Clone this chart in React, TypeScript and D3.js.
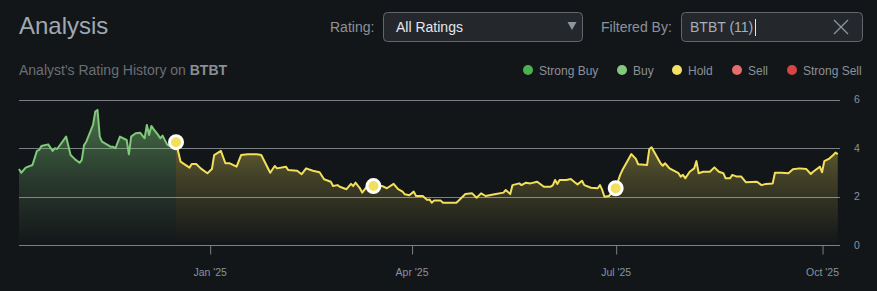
import React, { useEffect, useRef } from "react";
import * as d3 from "d3";

const W = 877;
const H = 291;

// Price history (date, close)
const dates = [
  "2024-10-08","2024-10-09","2024-10-11","2024-10-14","2024-10-16","2024-10-17","2024-10-18","2024-10-21","2024-10-23","2024-10-24",
  "2024-10-25","2024-10-29","2024-10-31","2024-11-02","2024-11-04","2024-11-05","2024-11-06","2024-11-07","2024-11-10","2024-11-11",
  "2024-11-12","2024-11-13","2024-11-14","2024-11-18","2024-11-19","2024-11-20","2024-11-22","2024-11-25","2024-11-26","2024-11-27",
  "2024-11-29","2024-12-01","2024-12-03","2024-12-04","2024-12-05","2024-12-06","2024-12-07","2024-12-09","2024-12-10","2024-12-11",
  "2024-12-13","2024-12-14","2024-12-17","2024-12-19","2024-12-23","2024-12-24","2024-12-26","2024-12-28","2024-12-31","2025-01-02",
  "2025-01-03","2025-01-06","2025-01-08","2025-01-10","2025-01-13","2025-01-15","2025-01-18","2025-01-22","2025-01-24","2025-01-28",
  "2025-01-30","2025-01-31","2025-02-04","2025-02-05","2025-02-09","2025-02-11","2025-02-13","2025-02-16","2025-02-19","2025-02-21",
  "2025-02-24","2025-02-25","2025-02-27","2025-02-28","2025-03-03","2025-03-05","2025-03-06","2025-03-07","2025-03-09","2025-03-10",
  "2025-03-12","2025-03-15","2025-03-19","2025-03-21","2025-03-24","2025-03-26","2025-03-28","2025-03-29","2025-03-31","2025-04-02",
  "2025-04-03","2025-04-06","2025-04-08","2025-04-09","2025-04-10","2025-04-11","2025-04-14","2025-04-15","2025-04-21","2025-04-25",
  "2025-04-28","2025-04-30","2025-05-02","2025-05-04","2025-05-08","2025-05-12","2025-05-13","2025-05-15","2025-05-16","2025-05-19",
  "2025-05-20","2025-05-22","2025-05-24","2025-05-27","2025-05-30","2025-06-02","2025-06-03","2025-06-04","2025-06-05","2025-06-06",
  "2025-06-09","2025-06-11","2025-06-13","2025-06-14","2025-06-16","2025-06-17","2025-06-20","2025-06-23","2025-06-24","2025-06-25",
  "2025-06-26","2025-06-28","2025-07-01","2025-07-03","2025-07-04","2025-07-08","2025-07-10","2025-07-11","2025-07-15","2025-07-16",
  "2025-07-17","2025-07-21","2025-07-22","2025-07-23","2025-07-25","2025-07-29","2025-07-30","2025-07-31","2025-08-01","2025-08-03",
  "2025-08-05","2025-08-06","2025-08-07","2025-08-09","2025-08-12","2025-08-14","2025-08-16","2025-08-18","2025-08-19","2025-08-21",
  "2025-08-22","2025-08-24","2025-08-26","2025-08-27","2025-08-28","2025-09-02","2025-09-04","2025-09-06","2025-09-09","2025-09-10",
  "2025-09-13","2025-09-16","2025-09-18","2025-09-21","2025-09-24","2025-09-26","2025-09-27","2025-09-30","2025-10-01","2025-10-02",
  "2025-10-04","2025-10-06","2025-10-07","2025-10-08",
];
const prices = [
  3.13,2.98,3.19,3.30,3.88,3.92,4.08,4.15,3.88,3.99,
  3.96,4.47,3.71,3.53,3.39,3.51,4.12,4.26,4.95,5.50,
  5.57,4.47,4.26,4.05,4.05,3.99,4.47,4.33,3.74,4.47,
  4.61,4.63,4.40,4.95,4.54,4.91,4.78,4.54,4.40,4.51,
  4.15,4.09,4.24,3.44,3.19,3.34,3.34,3.16,2.96,3.13,
  3.71,3.88,3.37,3.37,3.23,3.71,3.74,3.74,3.71,2.98,
  3.26,3.16,3.23,3.09,3.06,2.92,3.16,3.06,3.00,2.71,
  2.61,2.43,2.47,2.40,2.30,2.52,2.43,2.57,2.34,2.16,
  2.40,2.43,2.43,2.34,2.52,2.30,2.20,2.09,2.05,2.20,
  2.02,2.02,1.86,1.88,1.74,1.83,1.83,1.74,1.74,2.10,
  2.13,1.95,2.13,2.02,2.09,2.16,2.27,2.10,2.47,2.54,
  2.47,2.57,2.54,2.61,2.40,2.40,2.47,2.68,2.52,2.68,
  2.68,2.72,2.57,2.50,2.65,2.47,2.36,2.34,2.47,2.27,
  1.99,2.02,2.34,2.89,3.09,3.75,3.55,3.33,3.30,3.96,
  4.03,3.37,3.27,3.37,3.16,2.96,2.82,2.89,2.75,3.02,
  3.16,3.46,2.96,3.02,3.02,3.20,3.02,2.96,2.75,2.75,
  2.89,2.82,2.82,2.71,2.59,2.61,2.47,2.52,2.54,2.98,
  2.98,2.96,3.12,3.16,3.13,2.93,3.02,3.23,3.00,3.46,
  3.55,3.71,3.81,3.75,
];

// Rating history
const initialRating = "Buy";
const ratingChangeDates = ["2024-12-17", "2025-03-15", "2025-07-01"];
const ratingChangeValues = ["Hold", "Hold", "Hold"];

// Legend / axes
const legendLabels = ["Strong Buy", "Buy", "Hold", "Sell", "Strong Sell"];
const legendColors = ["#4caf50", "#84c77f", "#f2e163", "#e56d6d", "#d64545"];
const xTickDates = ["2025-01-01", "2025-04-01", "2025-07-01", "2025-10-01"];
const yTickValues = [0, 2, 4, 6];
const xDomain = ["2024-10-08", "2025-10-09"];

const lineColors: Record<string, string> = {
  "Strong Buy": "#4caf50",
  Buy: "#7fc97a",
  Hold: "#f2df5c",
  Sell: "#e56d6d",
  "Strong Sell": "#d64545",
};

const FONT = "'Liberation Sans', Arial, Helvetica, sans-serif";
const BG = "#131619";

export default function App() {
  const ref = useRef<SVGSVGElement>(null);

  useEffect(() => {
    const parse = d3.timeParse("%Y-%m-%d");
    const svg = d3.select(ref.current);
    svg.selectAll("*").remove();

    svg.append("rect").attr("width", W).attr("height", H).attr("fill", BG);

    // ---------- Header ----------
    svg.append("text").attr("x", 19).attr("y", 34).attr("font-size", 24)
      .attr("fill", "#9fa9b2").attr("font-family", FONT).text("Analysis");

    svg.append("text").attr("x", 330).attr("y", 32).attr("font-size", 14)
      .attr("fill", "#8b939b").attr("font-family", FONT).text("Rating:");

    svg.append("rect").attr("x", 383.5).attr("y", 12.5).attr("width", 199).attr("height", 29)
      .attr("rx", 4).attr("fill", "#24272b").attr("stroke", "#62676d");
    svg.append("text").attr("x", 396).attr("y", 32).attr("font-size", 14)
      .attr("fill", "#e3e7eb").attr("font-family", FONT).text("All Ratings");
    svg.append("path").attr("d", "M567.5,22 L576.5,22 L572,30 Z").attr("fill", "#8f959c");

    svg.append("text").attr("x", 601).attr("y", 32).attr("font-size", 14)
      .attr("fill", "#8b939b").attr("font-family", FONT).text("Filtered By:");
    svg.append("rect").attr("x", 681.5).attr("y", 12.5).attr("width", 181).attr("height", 29)
      .attr("rx", 4).attr("fill", "#24272b").attr("stroke", "#62676d");
    svg.append("text").attr("x", 690).attr("y", 32).attr("font-size", 14)
      .attr("fill", "#a7afb7").attr("font-family", FONT).text("BTBT (11)");
    svg.append("line").attr("x1", 755.5).attr("x2", 755.5).attr("y1", 19).attr("y2", 36)
      .attr("stroke", "#e0e4e8").attr("stroke-width", 1);
    const xc = 841, yc = 27, s = 7;
    svg.append("path")
      .attr("d", `M${xc - s},${yc - s} L${xc + s},${yc + s} M${xc + s},${yc - s} L${xc - s},${yc + s}`)
      .attr("stroke", "#8f959c").attr("stroke-width", 1.3);

    const sub = svg.append("text").attr("x", 19).attr("y", 75).attr("font-size", 14)
      .attr("fill", "#696f75").attr("font-family", FONT);
    sub.append("tspan").text("Analyst's Rating History on ");
    sub.append("tspan").attr("font-weight", "bold").attr("fill", "#8a9096").text("BTBT");

    // Legend
    const legendDotX = [528, 622, 677, 737, 792];
    legendLabels.forEach((lab, i) => {
      svg.append("circle").attr("cx", legendDotX[i]).attr("cy", 70).attr("r", 5)
        .attr("fill", legendColors[i]);
      svg.append("text").attr("x", legendDotX[i] + 11).attr("y", 74.5).attr("font-size", 12)
        .attr("fill", "#8a9198").attr("font-family", FONT).text(lab);
    });

    // ---------- Chart ----------
    const x = d3.scaleTime().domain(xDomain.map((d) => parse(d)!)).range([19, 840]);
    const y = d3.scaleLinear().domain([0, 6]).range([245, 99.5]);

    const data = dates.map((d, i) => ({ date: parse(d)!, value: prices[i] }));
    const changes = ratingChangeDates.map((d, i) => ({ date: parse(d)!, rating: ratingChangeValues[i] }));

    // Build segments by rating in effect
    const ratingAt = (dt: Date) => {
      let r = initialRating;
      changes.forEach((c) => { if (+c.date <= +dt) r = c.rating; });
      return r;
    };
    type Pt = { date: Date; value: number };
    const segments: { rating: string; pts: Pt[] }[] = [];
    data.forEach((p) => {
      const r = ratingAt(p.date);
      const last = segments[segments.length - 1];
      if (!last || last.rating !== r) {
        const seg = { rating: r, pts: [] as Pt[] };
        if (last) seg.pts.push(last.pts[last.pts.length - 1]);
        // if a change lands on this date, the previous segment ends here too
        if (last && changes.some((c) => +c.date === +p.date)) {
          last.pts.push(p);
          seg.pts = [p];
        }
        segments.push(seg);
        seg.pts.push(p);
        if (seg.pts.length > 1 && +seg.pts[0].date === +seg.pts[1].date) seg.pts.shift();
      } else {
        last.pts.push(p);
      }
    });

    // Gridlines
    const grid = svg.append("g");
    yTickValues.forEach((v) => {
      const yy = Math.round(y(v)) + 0.5;
      grid.append("line").attr("x1", 19).attr("x2", 840).attr("y1", yy).attr("y2", yy)
        .attr("stroke", "#7b8086").attr("stroke-width", 1);
    });

    const defs = svg.append("defs");
    Object.keys(lineColors).forEach((k, i) => {
      const g = defs.append("linearGradient").attr("id", `grad${i}`)
        .attr("gradientUnits", "userSpaceOnUse").attr("x1", 0).attr("x2", 0)
        .attr("y1", y(6)).attr("y2", y(0));
      g.append("stop").attr("offset", 0).attr("stop-color", lineColors[k]).attr("stop-opacity", 0.55);
      g.append("stop").attr("offset", 0.55).attr("stop-color", lineColors[k]).attr("stop-opacity", 0.2);
      g.append("stop").attr("offset", 1).attr("stop-color", lineColors[k]).attr("stop-opacity", 0.0);
    });
    const gradId = (r: string) => `grad${Object.keys(lineColors).indexOf(r)}`;

    const area = d3.area<Pt>().x((d) => x(d.date)).y0(y(0)).y1((d) => y(d.value));
    const line = d3.line<Pt>().x((d) => x(d.date)).y((d) => y(d.value));

    const plot = svg.append("g");
    segments.forEach((seg) => {
      plot.append("path").attr("d", area(seg.pts)).attr("fill", `url(#${gradId(seg.rating)})`);
    });
    segments.forEach((seg) => {
      plot.append("path").attr("d", line(seg.pts)).attr("fill", "none")
        .attr("stroke", lineColors[seg.rating]).attr("stroke-width", 2)
        .attr("stroke-linejoin", "round");
    });

    // X axis
    const xAxis = d3.axisBottom(x)
      .tickValues(xTickDates.map((d) => parse(d)!))
      .tickSize(9).tickPadding(14)
      .tickFormat((d) => d3.timeFormat("%b '%y")(d as Date));
    const gx = svg.append("g").attr("transform", `translate(0,${Math.round(y(0)) + 0.5})`).call(xAxis);
    gx.select(".domain").remove();
    gx.selectAll(".tick line").attr("stroke", "#7b8086").attr("transform", "translate(0.5,0)");
    gx.selectAll(".tick text").attr("fill", "#8793a1").attr("font-size", 10.5).attr("font-family", FONT);

    // Y axis
    const yAxis = d3.axisRight(y).tickValues(yTickValues).tickSize(0).tickPadding(14)
      .tickFormat((d) => String(d));
    const gy = svg.append("g").attr("transform", `translate(840,0)`).call(yAxis);
    gy.select(".domain").remove();
    gy.selectAll(".tick text").attr("fill", "#8793a1").attr("font-size", 10.5).attr("font-family", FONT);

    // Rating change markers
    changes.forEach((c) => {
      const p = data.find((d) => +d.date === +c.date);
      const v = p ? p.value : 0;
      plot.append("circle").attr("cx", x(c.date)).attr("cy", y(v)).attr("r", 6.5)
        .attr("fill", lineColors[c.rating]).attr("stroke", "#ffffff").attr("stroke-width", 3);
    });
  }, []);

  return (
    <svg ref={ref} width={W} height={H}
      style={{ position: "absolute", left: 0, top: 0, display: "block" }} />
  );
}
